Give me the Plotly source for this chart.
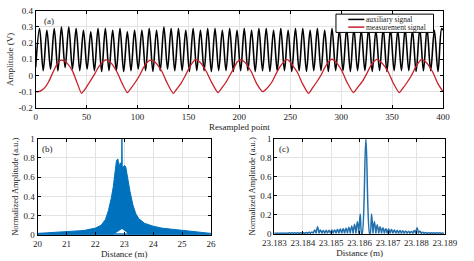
import plotly.graph_objects as go

# ---------------- data: panel (a) ----------------
aux_peak_x = [3.8, 11.0, 18.2, 25.3, 32.5, 39.7, 46.9, 54.1, 61.2, 68.4, 75.6, 82.8, 90.0, 97.1,
              104.3, 111.5, 118.7, 125.9, 133.0, 140.2, 147.4, 154.6, 161.8, 168.9, 176.1, 183.3,
              190.5, 197.7, 204.8, 212.0, 219.2, 226.4, 233.6, 240.7, 247.9, 255.1, 262.3, 269.5,
              276.6, 283.8, 291.0, 298.2, 305.4, 312.5, 319.7, 326.9, 334.1, 341.3, 348.4, 355.6,
              362.8, 370.0, 377.2, 384.3, 391.5, 398.7]
aux_peak_y = [0.29, 0.28, 0.29, 0.30, 0.30, 0.29, 0.28, 0.27, 0.29, 0.29, 0.28, 0.29, 0.27, 0.28,
              0.28, 0.29, 0.28, 0.30, 0.29, 0.29, 0.28, 0.29, 0.28, 0.29, 0.29, 0.28,
              0.29, 0.28, 0.29, 0.28, 0.29, 0.29, 0.28, 0.29, 0.28, 0.29, 0.29, 0.28,
              0.29, 0.28, 0.29, 0.28, 0.29, 0.29, 0.28, 0.29, 0.28, 0.29, 0.29, 0.28,
              0.29, 0.28, 0.29, 0.29, 0.28, 0.29]
aux_trough_x = [7.4, 14.6, 21.8, 28.9, 36.1, 43.3, 50.5, 57.7, 64.8, 72.0, 79.2, 86.4, 93.6,
                100.7, 107.9, 115.1, 122.3, 129.5, 136.6, 143.8, 151.0, 158.2, 165.4, 172.5,
                179.7, 186.9, 194.1, 201.3, 208.4, 215.6, 222.8, 230.0, 237.2, 244.3, 251.5,
                258.7, 265.9, 273.1, 280.2, 287.4, 294.6, 301.8, 309.0, 316.1, 323.3, 330.5,
                337.7, 344.9, 352.0, 359.2, 366.4, 373.6, 380.8, 387.9, 395.1]
aux_trough_y = [0.03, 0.04, 0.03, 0.05, 0.04, 0.03, 0.04, 0.03, 0.025, 0.03, 0.03, 0.025, 0.03,
                0.04, 0.03, 0.025, 0.03, 0.04, 0.03, 0.03, 0.025, 0.03, 0.03, 0.025,
                0.03, 0.03, 0.025, 0.03, 0.03, 0.025, 0.03, 0.025, 0.03, 0.03, 0.025,
                0.03, 0.025, 0.03, 0.03, 0.025, 0.03, 0.03, 0.025, 0.03, 0.03, 0.025,
                0.03, 0.025, 0.03, 0.03, 0.03, 0.025, 0.03, 0.03, 0.025]
aux_start = (0.0, 0.05)
aux_end = (400.0, 0.28)

meas_x = [0, 3, 6, 9, 13, 17, 21, 25, 28, 31, 36, 41, 45,
          49, 53, 58, 62, 66, 69, 72, 75, 80, 85, 90,
          94, 98, 102, 106, 110, 113, 116, 119, 124, 129, 135,
          139, 143, 147, 151, 154, 157, 160, 163, 168, 173, 179,
          183, 187, 191, 195, 198, 201, 204, 207, 212, 217, 223,
          227, 232, 236, 240, 243, 246, 249, 252, 257, 262, 268,
          272, 276, 280, 284, 287, 290, 293, 296, 301, 306, 312,
          316, 321, 325, 329, 332, 335, 338, 341, 346, 351, 357,
          361, 365, 369, 373, 376, 379, 382, 385, 390, 395, 400]
meas_y = [-0.10, -0.10, -0.09, -0.075, -0.035, 0.02, 0.07, 0.095, 0.09, 0.075, 0.03, -0.05, -0.11,
          -0.08, -0.04, 0.01, 0.055, 0.085, 0.097, 0.09, 0.07, 0.02, -0.05, -0.105,
          -0.075, -0.04, 0.0, 0.05, 0.085, 0.095, 0.09, 0.07, 0.025, -0.045, -0.11,
          -0.08, -0.045, 0.0, 0.05, 0.08, 0.10, 0.09, 0.07, 0.02, -0.045, -0.105,
          -0.075, -0.04, 0.005, 0.05, 0.085, 0.097, 0.09, 0.07, 0.02, -0.05, -0.10,
          -0.08, -0.04, 0.01, 0.055, 0.08, 0.10, 0.09, 0.065, 0.02, -0.05, -0.11,
          -0.075, -0.04, 0.0, 0.05, 0.08, 0.10, 0.095, 0.075, 0.025, -0.045, -0.105,
          -0.075, -0.035, 0.01, 0.06, 0.085, 0.10, 0.09, 0.07, 0.025, -0.045, -0.105,
          -0.075, -0.04, 0.0, 0.05, 0.08, 0.10, 0.09, 0.07, 0.02, -0.05, -0.10]

a_xticks = [0, 50, 100, 150, 200, 250, 300, 350, 400]
a_yticks = [-0.2, -0.1, 0, 0.1, 0.2, 0.3, 0.4]
a_yticklabels = ["-0.2", "-0.1", "0", "0.1", "0.2", "0.3", "0.4"]
legend_names = ["auxiliary signal", "measurement signal"]

# ---------------- data: panel (b) ----------------
b_x = [20.0, 20.3, 20.6, 21.0, 21.3, 21.6, 22.0, 22.2, 22.35, 22.45, 22.55, 22.62, 22.68,
       22.73, 22.78, 22.82, 22.86, 22.91, 22.92, 22.93, 22.96, 23.0, 23.05, 23.1, 23.15,
       23.2, 23.3, 23.4, 23.5, 23.7, 24.0, 24.3, 24.6, 25.0, 25.3, 25.6, 26.0]
b_upper = [0.015, 0.02, 0.03, 0.03, 0.04, 0.045, 0.07, 0.10, 0.16, 0.25, 0.38, 0.50, 0.65,
           0.77, 0.79, 0.70, 0.75, 0.72, 1.0, 0.72, 0.70, 0.72, 0.71, 0.62, 0.55,
           0.45, 0.31, 0.22, 0.17, 0.12, 0.09, 0.07, 0.06, 0.045, 0.04, 0.03, 0.015]
b_lower_x = [20.0, 22.62, 22.68, 22.8, 22.92, 23.05, 23.12, 23.15, 26.0]
b_lower = [0.0, 0.0, 0.015, 0.035, 0.06, 0.035, 0.015, 0.0, 0.0]

# ---------------- data: panel (c) ----------------
c_main_x = 23.18622
c_main_y = 1.0
c_left_x = [23.18602, 23.18592, 23.18582, 23.18572, 23.18562, 23.18552, 23.18542, 23.18532,
            23.18522, 23.18512, 23.18502, 23.18492, 23.18482, 23.18472, 23.18462, 23.18452,
            23.18442, 23.18432, 23.18422, 23.18412, 23.18402, 23.18392, 23.18382, 23.18372,
            23.18362, 23.18352, 23.18342, 23.18332, 23.18322, 23.18312, 23.18302]
c_left_y = [0.21, 0.13, 0.10, 0.083, 0.07, 0.06, 0.055, 0.05, 0.045, 0.042, 0.04, 0.038,
            0.037, 0.035, 0.04, 0.075, 0.04, 0.02, 0.016, 0.014, 0.013, 0.012, 0.012, 0.011,
            0.011, 0.011, 0.010, 0.010, 0.010, 0.010, 0.010]
c_right_x = [23.18642, 23.18652, 23.18662, 23.18672, 23.18682, 23.18692, 23.18702, 23.18712,
             23.18722, 23.18732, 23.18742, 23.18752, 23.18762, 23.18772, 23.18782, 23.18792,
             23.18802, 23.18812, 23.18822, 23.18832, 23.18842, 23.18852, 23.18862, 23.18872,
             23.18882, 23.18892]
c_right_y = [0.21, 0.13, 0.095, 0.075, 0.065, 0.055, 0.05, 0.045, 0.04, 0.037, 0.035, 0.032,
             0.03, 0.028, 0.026, 0.035, 0.065, 0.03, 0.016, 0.014, 0.013, 0.012, 0.012,
             0.011, 0.011, 0.010]
c_trough_y = 0.005
c_lobe_halfwidth = 0.00005
c_main_halfwidth = 0.00013

# ---------------- build traces ----------------
BLUE = "#0072BD"
CBLUE = "#2170ad"
RED = "#c8202a"
FONT = "Liberation Serif"
TXT = "#222"

aux_pts = [aux_start] + sorted(list(zip(aux_peak_x, aux_peak_y)) + list(zip(aux_trough_x, aux_trough_y))) + [aux_end]
aux_x = [p[0] for p in aux_pts]
aux_y = [p[1] for p in aux_pts]

# panel c: each lobe goes trough -> peak -> trough
lobes = sorted(list(zip(c_left_x, c_left_y)) + list(zip(c_right_x, c_right_y)))
cx, cy = [], []
for x, y in lobes:
    if cx and cx[-1] < c_main_x < x:
        cx += [c_main_x - c_main_halfwidth, c_main_x, c_main_x + c_main_halfwidth]
        cy += [c_trough_y, c_main_y, c_trough_y]
    cx += [x - c_lobe_halfwidth, x, x + c_lobe_halfwidth]
    cy += [c_trough_y, y, c_trough_y]

fig = go.Figure()

fig.add_trace(go.Scatter(x=aux_x, y=aux_y, mode="lines", name=legend_names[0],
                         line=dict(color="black", width=1.6, shape="spline"),
                         xaxis="x", yaxis="y"))
fig.add_trace(go.Scatter(x=meas_x, y=meas_y, mode="lines", name=legend_names[1],
                         line=dict(color=RED, width=1.3, shape="spline", smoothing=0.5),
                         xaxis="x", yaxis="y"))

fig.add_trace(go.Scatter(x=b_lower_x, y=b_lower, mode="lines", line=dict(width=0, color=BLUE),
                         xaxis="x2", yaxis="y2"))
fig.add_trace(go.Scatter(x=b_x, y=b_upper, mode="lines", fill="tonexty", fillcolor=BLUE,
                         line=dict(width=1, color=BLUE), xaxis="x2", yaxis="y2"))
fig.add_trace(go.Scatter(x=[b_x[0], b_x[-1]], y=[b_lower[0], b_lower[-1]], mode="lines",
                         line=dict(width=3, color=BLUE), xaxis="x2", yaxis="y2"))

fig.add_trace(go.Scatter(x=cx, y=cy, mode="lines", line=dict(color=CBLUE, width=1.5, shape="spline"),
                         xaxis="x3", yaxis="y3"))

W, H = 474, 261
def px_x(a, b):
    return [a / W, b / W]
def px_y(top, bot):
    return [1 - bot / H, 1 - top / H]
def pxp(x, y):
    return x / W, 1 - y / H

axis_common = dict(showline=True, linecolor="black", linewidth=1, mirror="ticks",
                   ticks="inside", ticklen=3, tickcolor="black", showgrid=True,
                   gridcolor="#e3e3e3", gridwidth=1, zeroline=False,
                   tickfont=dict(family=FONT, size=9, color=TXT))

fig.update_layout(
    width=W, height=H, margin=dict(l=0, r=0, t=0, b=0),
    paper_bgcolor="white", plot_bgcolor="white",
    font=dict(family=FONT, size=9, color=TXT),
    showlegend=False,
    xaxis=dict(domain=px_x(25, 455), range=[0, 400], tickvals=a_xticks, anchor="y", **axis_common),
    yaxis=dict(domain=px_y(6, 107), range=[-0.2, 0.4], tickvals=a_yticks, ticktext=a_yticklabels,
               title=dict(text="Amplitude (V)", font=dict(size=9), standoff=3), anchor="x", **axis_common),
    xaxis2=dict(domain=px_x(27, 210), range=[20, 26], dtick=1,
                title=dict(text="Distance (m)", font=dict(size=9), standoff=1), anchor="y2", **axis_common),
    yaxis2=dict(domain=px_y(139, 239), range=[0, 1], dtick=0.2,
                title=dict(text="Normalized Amplitude (a.u.)", font=dict(size=8.5), standoff=3), anchor="x2", **axis_common),
    xaxis3=dict(domain=px_x(277, 457), range=[23.183, 23.189], dtick=0.001, tickformat=".3f",
                title=dict(text="Distance (m)", font=dict(size=9), standoff=1), anchor="y3", **axis_common),
    yaxis3=dict(domain=px_y(139, 238), range=[0, 1], dtick=0.2,
                title=dict(text="Normalized Amplitude (a.u.)", font=dict(size=8.5), standoff=3), anchor="x3", **axis_common),
)

# x-axis title of panel (a), placed under the tick labels
tx, ty = pxp(240, 121)
fig.add_annotation(xref="paper", yref="paper", x=tx, y=ty, xanchor="center", yanchor="top",
                   text="Resampled point", showarrow=False, borderpad=0,
                   font=dict(family=FONT, size=9, color=TXT))

# compact legend box (MATLAB style) for panel (a)
lx0, ly0 = pxp(342, 9.5)
lx1, ly1 = pxp(445, 28.5)
fig.add_shape(type="rect", xref="paper", yref="paper", x0=lx0, y0=ly1, x1=lx1, y1=ly0,
              fillcolor="white", line=dict(color="black", width=1), layer="above")
for i, (name, col) in enumerate(zip(legend_names, ["black", RED])):
    yy = 15.0 + i * 8.0
    a0, b0 = pxp(355, yy)
    a1, _ = pxp(372, yy)
    fig.add_shape(type="line", xref="paper", yref="paper", x0=a0, y0=b0, x1=a1, y1=b0,
                  line=dict(color=col, width=1.5), layer="above")
    tx, ty = pxp(373, yy)
    fig.add_annotation(xref="paper", yref="paper", x=tx, y=ty, xanchor="left", yanchor="middle",
                       text=name, showarrow=False, borderpad=0,
                       font=dict(family=FONT, size=7.5, color=TXT))

for xr, yr, lab in [("x domain", "y domain", "(a)"), ("x2 domain", "y2 domain", "(b)"),
                    ("x3 domain", "y3 domain", "(c)")]:
    fig.add_annotation(xref=xr, yref=yr, x=0.015, y=0.97, xanchor="left", yanchor="top",
                       text=lab, showarrow=False, font=dict(family=FONT, size=9, color=TXT))

fig.write_html("out.html")
